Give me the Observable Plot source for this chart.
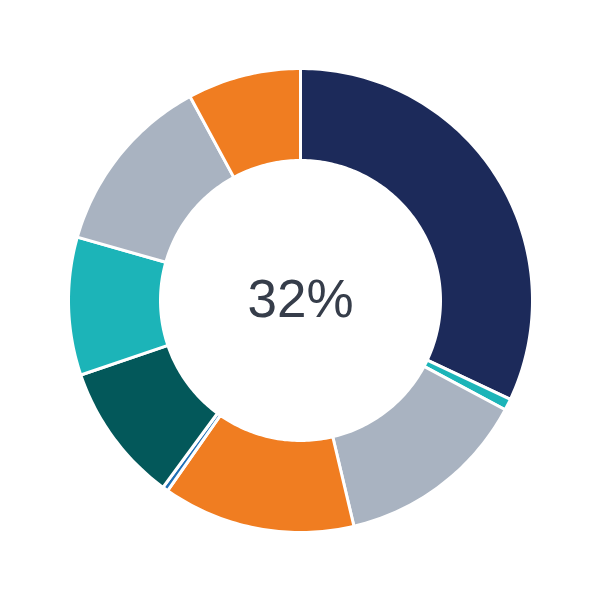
<!DOCTYPE html>
<html>
<head>
<meta charset="utf-8">
<script src="https://cdn.jsdelivr.net/npm/d3@7"></script>
<script src="https://cdn.jsdelivr.net/npm/@observablehq/plot@0.6"></script>
<style>
  html, body { margin: 0; padding: 0; background: #fff; }
  #chart { width: 600px; height: 600px; }
</style>
</head>
<body>
<div id="chart"></div>
<script>
// Slices, clockwise from 12 o'clock
const categories = ["A", "B", "C", "D", "E", "F", "G", "H", "I"];
const values = [32, 0.8, 13.5, 13.4, 0.4, 9.7, 9.6, 12.7, 7.9];
const colors = ["#1c2a5a", "#1cb4b8", "#a9b3c1", "#f07d21", "#1f6fb5", "#03585a", "#1cb4b8", "#a9b3c1", "#f07d21"];
const centerLabel = "32%";

const outerR = 232, innerR = 140;
const total = d3.sum(values);

let acc = 0;
const features = values.map((v, i) => {
  const a0 = acc / total * 2 * Math.PI;
  acc += v;
  const a1 = acc / total * 2 * Math.PI;
  const n = Math.max(2, Math.ceil((a1 - a0) / (Math.PI / 180)));
  const ring = [];
  for (let k = 0; k <= n; k++) {
    const a = a0 + (a1 - a0) * k / n;
    ring.push([outerR * Math.sin(a), -outerR * Math.cos(a)]);
  }
  for (let k = n; k >= 0; k--) {
    const a = a0 + (a1 - a0) * k / n;
    ring.push([innerR * Math.sin(a), -innerR * Math.cos(a)]);
  }
  ring.push(ring[0]);
  return {type: "Feature", properties: {cat: categories[i], color: colors[i]}, geometry: {type: "Polygon", coordinates: [ring]}};
});

const chart = Plot.plot({
  width: 600,
  height: 600,
  margin: 0,
  inset: 0,
  projection: {type: "identity", domain: {type: "MultiPoint", coordinates: [[-300, -300], [300, 300]]}},
  marks: [
    Plot.geo(features, {fill: d => d.properties.color, stroke: "white", strokeWidth: 3}),
    Plot.text([centerLabel], {x: 0, y: 0, text: d => d, fontSize: 53, fill: "#363d4a", fontFamily: "Liberation Sans, Arial, sans-serif", textAnchor: "middle", lineAnchor: "middle"})
  ]
});
document.getElementById("chart").appendChild(chart);
</script>
</body>
</html>
